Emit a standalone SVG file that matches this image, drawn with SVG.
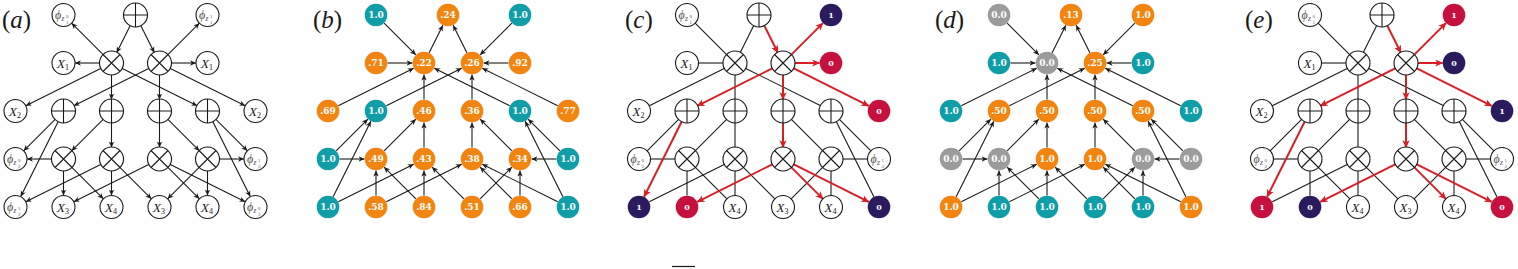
<svg xmlns="http://www.w3.org/2000/svg" xmlns:xlink="http://www.w3.org/1999/xlink" width="1518" height="269" viewBox="0 0 1518 269">
<style>
.ln{fill:none;stroke:#1a1a1a;stroke-width:1.1}
.arr{marker-end:url(#ah)}
.red{fill:none;stroke:#d81e27;stroke-width:2;marker-end:url(#ahr)}
.nd{fill:#fff;stroke:#1a1a1a;stroke-width:1.1}
.t{fill:#0f9ea8}.o{fill:#f28410}.g{fill:#9c9c9c}.p{fill:#2b1b5e}.c{fill:#c6113f}
.v{font-family:"DejaVu Serif",serif;font-weight:bold;font-size:9px;fill:#fff;text-anchor:middle}
.s{font-size:8px}
.lbl{font-family:"Liberation Serif","DejaVu Serif",serif;font-style:italic;font-size:13px;fill:#1a1a1a}
.sub{font-size:8px;font-style:normal}
.phi{fill:#555}
.ph{font-size:12px}.z{font-size:7.5px}.ss{font-size:5px;font-style:normal}
.pl{font-family:"Liberation Serif","DejaVu Serif",serif;font-size:25px;fill:#1a1a1a}
</style>
<defs>
<marker id="ah" viewBox="0 0 10 10" refX="10" refY="5" markerWidth="6" markerHeight="6" markerUnits="userSpaceOnUse" orient="auto"><path d="M0,0.5L10,5L0,9.5L3,5z" fill="#1a1a1a"/></marker>
<marker id="ahr" viewBox="0 0 10 10" refX="9" refY="5" markerWidth="9" markerHeight="8" markerUnits="userSpaceOnUse" orient="auto"><path d="M0,0.5L10,5L0,9.5L2.5,5z" fill="#d81e27"/></marker>
<g id="sum"><circle class="nd" r="12"/><path class="ln" d="M-12,0H12M0,-12V12"/></g>
<g id="prod"><circle class="nd" r="12"/><path class="ln" d="M-8.5,-8.5L8.5,8.5M-8.5,8.5L8.5,-8.5"/></g>
<circle id="leaf" class="nd" r="11.5"/>
</defs>

<text class="pl" x="2" y="28">(<tspan font-style="italic">a</tspan>)</text>
<text class="pl" x="313" y="28">(<tspan font-style="italic">b</tspan>)</text>
<text class="pl" x="625" y="28">(<tspan font-style="italic">c</tspan>)</text>
<text class="pl" x="935" y="28">(<tspan font-style="italic">d</tspan>)</text>
<text class="pl" x="1245" y="28">(<tspan font-style="italic">e</tspan>)</text>

<!-- Panel a -->
<g id="panel-a" transform="translate(15.5,0)">
<g id="a-connectors" class="ln arr">
<path d="M114.86,25.29L101.14,52.71"/><path d="M125.14,25.29L138.86,52.71"/>
<path d="M87.87,54.87L56.13,23.13"/><path d="M152.13,54.87L183.87,23.13"/>
<path d="M84.5,63L59.5,63"/><path d="M155.5,63L180.5,63"/>
<path d="M85.71,68.14L10.29,105.86"/><path d="M154.29,68.14L229.71,105.86"/>
<path d="M96,74.5L96,99.5"/><path d="M144,74.5L144,99.5"/>
<path d="M106.29,68.14L181.71,105.86"/><path d="M133.71,68.14L58.29,105.86"/>
<path d="M39.87,119.13L8.13,150.87"/><path d="M42.86,121.29L5.14,196.71"/>
<path d="M87.87,119.13L56.13,150.87"/><path d="M96,122.5L96,147.5"/>
<path d="M144,122.5L144,147.5"/><path d="M152.13,119.13L183.87,150.87"/>
<path d="M200.13,119.13L231.87,150.87"/><path d="M197.14,121.29L234.86,196.71"/>
<path d="M36.5,159L11.5,159"/><path d="M48,170.5L48,195.5"/>
<path d="M56.13,167.13L87.87,198.87"/><path d="M96,170.5L96,195.5"/>
<path d="M85.71,164.14L10.29,201.86"/><path d="M104.13,167.13L135.87,198.87"/>
<path d="M133.71,164.14L58.29,201.86"/><path d="M152.13,167.13L183.87,198.87"/>
<path d="M154.29,164.14L229.71,201.86"/><path d="M183.87,167.13L152.13,198.87"/>
<path d="M192,170.5L192,195.5"/><path d="M203.5,159L228.5,159"/>
</g>
<g id="a-phi-z1-0" transform="translate(48,15)"><use href="#leaf"/><text class="lbl phi"><tspan class="ph" x="-8.5" y="4">ϕ</tspan><tspan class="z" x="-2" y="6">z</tspan><tspan class="ss" x="2.5" y="2.5">0</tspan><tspan class="ss" x="2.5" y="8.5">1</tspan></text></g>
<g id="a-root" transform="translate(120,15)"><use href="#sum"/></g>
<g id="a-phi-z1-1" transform="translate(192,15)"><use href="#leaf"/><text class="lbl phi"><tspan class="ph" x="-8.5" y="4">ϕ</tspan><tspan class="z" x="-2" y="6">z</tspan><tspan class="ss" x="2.5" y="2.5">1</tspan><tspan class="ss" x="2.5" y="8.5">1</tspan></text></g>
<g id="a-x1-l" transform="translate(48,63)"><use href="#leaf"/><text class="lbl" x="-6.5" y="4.5">X<tspan class="sub" dy="2.5">1</tspan></text></g>
<g id="a-prod-1" transform="translate(96,63)"><use href="#prod"/></g>
<g id="a-prod-2" transform="translate(144,63)"><use href="#prod"/></g>
<g id="a-x1-r" transform="translate(192,63)"><use href="#leaf"/><text class="lbl" x="-6.5" y="4.5">X<tspan class="sub" dy="2.5">1</tspan></text></g>
<g id="a-x2-l" transform="translate(0,111)"><use href="#leaf"/><text class="lbl" x="-6.5" y="4.5">X<tspan class="sub" dy="2.5">2</tspan></text></g>
<g id="a-sum-1" transform="translate(48,111)"><use href="#sum"/></g>
<g id="a-sum-2" transform="translate(96,111)"><use href="#sum"/></g>
<g id="a-sum-3" transform="translate(144,111)"><use href="#sum"/></g>
<g id="a-sum-4" transform="translate(192,111)"><use href="#sum"/></g>
<g id="a-x2-r" transform="translate(240,111)"><use href="#leaf"/><text class="lbl" x="-6.5" y="4.5">X<tspan class="sub" dy="2.5">2</tspan></text></g>
<g id="a-phi-z2-0" transform="translate(0,159)"><use href="#leaf"/><text class="lbl phi"><tspan class="ph" x="-8.5" y="4">ϕ</tspan><tspan class="z" x="-2" y="6">z</tspan><tspan class="ss" x="2.5" y="2.5">0</tspan><tspan class="ss" x="2.5" y="8.5">2</tspan></text></g>
<g id="a-prod-3" transform="translate(48,159)"><use href="#prod"/></g>
<g id="a-prod-4" transform="translate(96,159)"><use href="#prod"/></g>
<g id="a-prod-5" transform="translate(144,159)"><use href="#prod"/></g>
<g id="a-prod-6" transform="translate(192,159)"><use href="#prod"/></g>
<g id="a-phi-z3-1" transform="translate(240,159)"><use href="#leaf"/><text class="lbl phi"><tspan class="ph" x="-8.5" y="4">ϕ</tspan><tspan class="z" x="-2" y="6">z</tspan><tspan class="ss" x="2.5" y="2.5">1</tspan><tspan class="ss" x="2.5" y="8.5">3</tspan></text></g>
<g id="a-phi-z2-1" transform="translate(0,207)"><use href="#leaf"/><text class="lbl phi"><tspan class="ph" x="-8.5" y="4">ϕ</tspan><tspan class="z" x="-2" y="6">z</tspan><tspan class="ss" x="2.5" y="2.5">1</tspan><tspan class="ss" x="2.5" y="8.5">2</tspan></text></g>
<g id="a-x3-l" transform="translate(48,207)"><use href="#leaf"/><text class="lbl" x="-6.5" y="4.5">X<tspan class="sub" dy="2.5">3</tspan></text></g>
<g id="a-x4-l" transform="translate(96,207)"><use href="#leaf"/><text class="lbl" x="-6.5" y="4.5">X<tspan class="sub" dy="2.5">4</tspan></text></g>
<g id="a-x3-r" transform="translate(144,207)"><use href="#leaf"/><text class="lbl" x="-6.5" y="4.5">X<tspan class="sub" dy="2.5">3</tspan></text></g>
<g id="a-x4-r" transform="translate(192,207)"><use href="#leaf"/><text class="lbl" x="-6.5" y="4.5">X<tspan class="sub" dy="2.5">4</tspan></text></g>
<g id="a-phi-z3-0" transform="translate(240,207)"><use href="#leaf"/><text class="lbl phi"><tspan class="ph" x="-8.5" y="4">ϕ</tspan><tspan class="z" x="-2" y="6">z</tspan><tspan class="ss" x="2.5" y="2.5">0</tspan><tspan class="ss" x="2.5" y="8.5">3</tspan></text></g>
</g>

<!-- Panel b -->
<g id="panel-b" transform="translate(328,0)">
<g id="b-connectors" class="ln arr">
<path d="M101.14,52.71L114.86,25.29"/><path d="M138.86,52.71L125.14,25.29"/>
<path d="M56.13,23.13L87.87,54.87"/><path d="M183.87,23.13L152.13,54.87"/>
<path d="M59.5,63L84.5,63"/><path d="M180.5,63L155.5,63"/>
<path d="M10.29,105.86L85.71,68.14"/><path d="M229.71,105.86L154.29,68.14"/>
<path d="M96,99.5L96,74.5"/><path d="M144,99.5L144,74.5"/>
<path d="M181.71,105.86L106.29,68.14"/><path d="M58.29,105.86L133.71,68.14"/>
<path d="M8.13,150.87L39.87,119.13"/><path d="M5.14,196.71L42.86,121.29"/>
<path d="M56.13,150.87L87.87,119.13"/><path d="M96,147.5L96,122.5"/>
<path d="M144,147.5L144,122.5"/><path d="M183.87,150.87L152.13,119.13"/>
<path d="M231.87,150.87L200.13,119.13"/><path d="M234.86,196.71L197.14,121.29"/>
<path d="M11.5,159L36.5,159"/><path d="M48,195.5L48,170.5"/>
<path d="M87.87,198.87L56.13,167.13"/><path d="M96,195.5L96,170.5"/>
<path d="M10.29,201.86L85.71,164.14"/><path d="M135.87,198.87L104.13,167.13"/>
<path d="M58.29,201.86L133.71,164.14"/><path d="M183.87,198.87L152.13,167.13"/>
<path d="M229.71,201.86L154.29,164.14"/><path d="M152.13,198.87L183.87,167.13"/>
<path d="M192,195.5L192,170.5"/><path d="M228.5,159L203.5,159"/>
</g>
<g id="b-phi-z1-0" transform="translate(48,15)"><circle class="t" r="11.3"/><text class="v" y="3.2">1.0</text></g>
<g id="b-root" transform="translate(120,15)"><circle class="o" r="11.3"/><text class="v" y="3.2">.24</text></g>
<g id="b-phi-z1-1" transform="translate(192,15)"><circle class="t" r="11.3"/><text class="v" y="3.2">1.0</text></g>
<g id="b-x1-l" transform="translate(48,63)"><circle class="o" r="11.3"/><text class="v" y="3.2">.71</text></g>
<g id="b-prod-1" transform="translate(96,63)"><circle class="o" r="11.3"/><text class="v" y="3.2">.22</text></g>
<g id="b-prod-2" transform="translate(144,63)"><circle class="o" r="11.3"/><text class="v" y="3.2">.26</text></g>
<g id="b-x1-r" transform="translate(192,63)"><circle class="o" r="11.3"/><text class="v" y="3.2">.92</text></g>
<g id="b-x2-l" transform="translate(0,111)"><circle class="o" r="11.3"/><text class="v" y="3.2">.69</text></g>
<g id="b-sum-1" transform="translate(48,111)"><circle class="t" r="11.3"/><text class="v" y="3.2">1.0</text></g>
<g id="b-sum-2" transform="translate(96,111)"><circle class="o" r="11.3"/><text class="v" y="3.2">.46</text></g>
<g id="b-sum-3" transform="translate(144,111)"><circle class="o" r="11.3"/><text class="v" y="3.2">.36</text></g>
<g id="b-sum-4" transform="translate(192,111)"><circle class="t" r="11.3"/><text class="v" y="3.2">1.0</text></g>
<g id="b-x2-r" transform="translate(240,111)"><circle class="o" r="11.3"/><text class="v" y="3.2">.77</text></g>
<g id="b-phi-z2-0" transform="translate(0,159)"><circle class="t" r="11.3"/><text class="v" y="3.2">1.0</text></g>
<g id="b-prod-3" transform="translate(48,159)"><circle class="o" r="11.3"/><text class="v" y="3.2">.49</text></g>
<g id="b-prod-4" transform="translate(96,159)"><circle class="o" r="11.3"/><text class="v" y="3.2">.43</text></g>
<g id="b-prod-5" transform="translate(144,159)"><circle class="o" r="11.3"/><text class="v" y="3.2">.38</text></g>
<g id="b-prod-6" transform="translate(192,159)"><circle class="o" r="11.3"/><text class="v" y="3.2">.34</text></g>
<g id="b-phi-z3-1" transform="translate(240,159)"><circle class="t" r="11.3"/><text class="v" y="3.2">1.0</text></g>
<g id="b-phi-z2-1" transform="translate(0,207)"><circle class="t" r="11.3"/><text class="v" y="3.2">1.0</text></g>
<g id="b-x3-l" transform="translate(48,207)"><circle class="o" r="11.3"/><text class="v" y="3.2">.58</text></g>
<g id="b-x4-l" transform="translate(96,207)"><circle class="o" r="11.3"/><text class="v" y="3.2">.84</text></g>
<g id="b-x3-r" transform="translate(144,207)"><circle class="o" r="11.3"/><text class="v" y="3.2">.51</text></g>
<g id="b-x4-r" transform="translate(192,207)"><circle class="o" r="11.3"/><text class="v" y="3.2">.66</text></g>
<g id="b-phi-z3-0" transform="translate(240,207)"><circle class="t" r="11.3"/><text class="v" y="3.2">1.0</text></g>
</g>

<!-- Panel c -->
<g id="panel-c" transform="translate(639,0)">
<g id="c-connectors">
<g class="ln">
<path d="M114.86,25.29L101.14,52.71"/><path d="M87.87,54.87L56.13,23.13"/>
<path d="M84.5,63L59.5,63"/><path d="M85.71,68.14L10.29,105.86"/>
<path d="M96,74.5L96,99.5"/><path d="M106.29,68.14L181.71,105.86"/>
<path d="M39.87,119.13L8.13,150.87"/><path d="M87.87,119.13L56.13,150.87"/>
<path d="M96,122.5L96,147.5"/><path d="M152.13,119.13L183.87,150.87"/>
<path d="M200.13,119.13L231.87,150.87"/><path d="M197.14,121.29L234.86,196.71"/>
<path d="M36.5,159L11.5,159"/><path d="M48,170.5L48,195.5"/>
<path d="M56.13,167.13L87.87,198.87"/><path d="M96,170.5L96,195.5"/>
<path d="M85.71,164.14L10.29,201.86"/><path d="M104.13,167.13L135.87,198.87"/>
<path d="M183.87,167.13L152.13,198.87"/><path d="M192,170.5L192,195.5"/>
<path d="M203.5,159L228.5,159"/>
</g>
<g class="red">
<path d="M125.14,25.29L138.86,52.71"/><path d="M152.13,54.87L183.87,23.13"/>
<path d="M155.5,63L180.5,63"/><path d="M154.29,68.14L229.71,105.86"/>
<path d="M144,74.5L144,99.5"/><path d="M133.71,68.14L58.29,105.86"/>
<path d="M42.86,121.29L5.14,196.71"/><path d="M144,122.5L144,147.5"/>
<path d="M133.71,164.14L58.29,201.86"/><path d="M152.13,167.13L183.87,198.87"/>
<path d="M154.29,164.14L229.71,201.86"/>
</g>
</g>
<g id="c-phi-z1-0" transform="translate(48,15)"><use href="#leaf"/><text class="lbl phi"><tspan class="ph" x="-8.5" y="4">ϕ</tspan><tspan class="z" x="-2" y="6">z</tspan><tspan class="ss" x="2.5" y="2.5">0</tspan><tspan class="ss" x="2.5" y="8.5">1</tspan></text></g>
<g id="c-root" transform="translate(120,15)"><use href="#sum"/></g>
<g id="c-phi-z1-1" transform="translate(192,15)"><circle class="p" r="11.3"/><text class="v s" y="3">1</text></g>
<g id="c-x1-l" transform="translate(48,63)"><use href="#leaf"/><text class="lbl" x="-6.5" y="4.5">X<tspan class="sub" dy="2.5">1</tspan></text></g>
<g id="c-prod-1" transform="translate(96,63)"><use href="#prod"/></g>
<g id="c-prod-2" transform="translate(144,63)"><use href="#prod"/></g>
<g id="c-x1-r" transform="translate(192,63)"><circle class="c" r="11.3"/><text class="v s" y="3">0</text></g>
<g id="c-x2-l" transform="translate(0,111)"><use href="#leaf"/><text class="lbl" x="-6.5" y="4.5">X<tspan class="sub" dy="2.5">2</tspan></text></g>
<g id="c-sum-1" transform="translate(48,111)"><use href="#sum"/></g>
<g id="c-sum-2" transform="translate(96,111)"><use href="#sum"/></g>
<g id="c-sum-3" transform="translate(144,111)"><use href="#sum"/></g>
<g id="c-sum-4" transform="translate(192,111)"><use href="#sum"/></g>
<g id="c-x2-r" transform="translate(240,111)"><circle class="c" r="11.3"/><text class="v s" y="3">0</text></g>
<g id="c-phi-z2-0" transform="translate(0,159)"><use href="#leaf"/><text class="lbl phi"><tspan class="ph" x="-8.5" y="4">ϕ</tspan><tspan class="z" x="-2" y="6">z</tspan><tspan class="ss" x="2.5" y="2.5">0</tspan><tspan class="ss" x="2.5" y="8.5">2</tspan></text></g>
<g id="c-prod-3" transform="translate(48,159)"><use href="#prod"/></g>
<g id="c-prod-4" transform="translate(96,159)"><use href="#prod"/></g>
<g id="c-prod-5" transform="translate(144,159)"><use href="#prod"/></g>
<g id="c-prod-6" transform="translate(192,159)"><use href="#prod"/></g>
<g id="c-phi-z3-1" transform="translate(240,159)"><use href="#leaf"/><text class="lbl phi"><tspan class="ph" x="-8.5" y="4">ϕ</tspan><tspan class="z" x="-2" y="6">z</tspan><tspan class="ss" x="2.5" y="2.5">1</tspan><tspan class="ss" x="2.5" y="8.5">3</tspan></text></g>
<g id="c-phi-z2-1" transform="translate(0,207)"><circle class="p" r="11.3"/><text class="v s" y="3">1</text></g>
<g id="c-x3-l" transform="translate(48,207)"><circle class="c" r="11.3"/><text class="v s" y="3">0</text></g>
<g id="c-x4-l" transform="translate(96,207)"><use href="#leaf"/><text class="lbl" x="-6.5" y="4.5">X<tspan class="sub" dy="2.5">4</tspan></text></g>
<g id="c-x3-r" transform="translate(144,207)"><use href="#leaf"/><text class="lbl" x="-6.5" y="4.5">X<tspan class="sub" dy="2.5">3</tspan></text></g>
<g id="c-x4-r" transform="translate(192,207)"><use href="#leaf"/><text class="lbl" x="-6.5" y="4.5">X<tspan class="sub" dy="2.5">4</tspan></text></g>
<g id="c-phi-z3-0" transform="translate(240,207)"><circle class="p" r="11.3"/><text class="v s" y="3">0</text></g>
</g>

<!-- Panel d -->
<g id="panel-d" transform="translate(951,0)">
<g id="d-connectors"><use href="#b-connectors"/></g>
<g id="d-phi-z1-0" transform="translate(48,15)"><circle class="g" r="11.3"/><text class="v" y="3.2">0.0</text></g>
<g id="d-root" transform="translate(120,15)"><circle class="o" r="11.3"/><text class="v" y="3.2">.13</text></g>
<g id="d-phi-z1-1" transform="translate(192,15)"><circle class="o" r="11.3"/><text class="v" y="3.2">1.0</text></g>
<g id="d-x1-l" transform="translate(48,63)"><circle class="t" r="11.3"/><text class="v" y="3.2">1.0</text></g>
<g id="d-prod-1" transform="translate(96,63)"><circle class="g" r="11.3"/><text class="v" y="3.2">0.0</text></g>
<g id="d-prod-2" transform="translate(144,63)"><circle class="o" r="11.3"/><text class="v" y="3.2">.25</text></g>
<g id="d-x1-r" transform="translate(192,63)"><circle class="t" r="11.3"/><text class="v" y="3.2">1.0</text></g>
<g id="d-x2-l" transform="translate(0,111)"><circle class="t" r="11.3"/><text class="v" y="3.2">1.0</text></g>
<g id="d-sum-1" transform="translate(48,111)"><circle class="o" r="11.3"/><text class="v" y="3.2">.50</text></g>
<g id="d-sum-2" transform="translate(96,111)"><circle class="o" r="11.3"/><text class="v" y="3.2">.50</text></g>
<g id="d-sum-3" transform="translate(144,111)"><circle class="o" r="11.3"/><text class="v" y="3.2">.50</text></g>
<g id="d-sum-4" transform="translate(192,111)"><circle class="o" r="11.3"/><text class="v" y="3.2">.50</text></g>
<g id="d-x2-r" transform="translate(240,111)"><circle class="t" r="11.3"/><text class="v" y="3.2">1.0</text></g>
<g id="d-phi-z2-0" transform="translate(0,159)"><circle class="g" r="11.3"/><text class="v" y="3.2">0.0</text></g>
<g id="d-prod-3" transform="translate(48,159)"><circle class="g" r="11.3"/><text class="v" y="3.2">0.0</text></g>
<g id="d-prod-4" transform="translate(96,159)"><circle class="o" r="11.3"/><text class="v" y="3.2">1.0</text></g>
<g id="d-prod-5" transform="translate(144,159)"><circle class="o" r="11.3"/><text class="v" y="3.2">1.0</text></g>
<g id="d-prod-6" transform="translate(192,159)"><circle class="g" r="11.3"/><text class="v" y="3.2">0.0</text></g>
<g id="d-phi-z3-1" transform="translate(240,159)"><circle class="g" r="11.3"/><text class="v" y="3.2">0.0</text></g>
<g id="d-phi-z2-1" transform="translate(0,207)"><circle class="o" r="11.3"/><text class="v" y="3.2">1.0</text></g>
<g id="d-x3-l" transform="translate(48,207)"><circle class="t" r="11.3"/><text class="v" y="3.2">1.0</text></g>
<g id="d-x4-l" transform="translate(96,207)"><circle class="t" r="11.3"/><text class="v" y="3.2">1.0</text></g>
<g id="d-x3-r" transform="translate(144,207)"><circle class="t" r="11.3"/><text class="v" y="3.2">1.0</text></g>
<g id="d-x4-r" transform="translate(192,207)"><circle class="t" r="11.3"/><text class="v" y="3.2">1.0</text></g>
<g id="d-phi-z3-0" transform="translate(240,207)"><circle class="o" r="11.3"/><text class="v" y="3.2">1.0</text></g>
</g>

<!-- Panel e -->
<g id="panel-e" transform="translate(1262,0)">
<g id="e-connectors"><use href="#c-connectors"/></g>
<g id="e-phi-z1-0" transform="translate(48,15)"><use href="#leaf"/><text class="lbl phi"><tspan class="ph" x="-8.5" y="4">ϕ</tspan><tspan class="z" x="-2" y="6">z</tspan><tspan class="ss" x="2.5" y="2.5">0</tspan><tspan class="ss" x="2.5" y="8.5">1</tspan></text></g>
<g id="e-root" transform="translate(120,15)"><use href="#sum"/></g>
<g id="e-phi-z1-1" transform="translate(192,15)"><circle class="c" r="11.3"/><text class="v s" y="3">1</text></g>
<g id="e-x1-l" transform="translate(48,63)"><use href="#leaf"/><text class="lbl" x="-6.5" y="4.5">X<tspan class="sub" dy="2.5">1</tspan></text></g>
<g id="e-prod-1" transform="translate(96,63)"><use href="#prod"/></g>
<g id="e-prod-2" transform="translate(144,63)"><use href="#prod"/></g>
<g id="e-x1-r" transform="translate(192,63)"><circle class="p" r="11.3"/><text class="v s" y="3">0</text></g>
<g id="e-x2-l" transform="translate(0,111)"><use href="#leaf"/><text class="lbl" x="-6.5" y="4.5">X<tspan class="sub" dy="2.5">2</tspan></text></g>
<g id="e-sum-1" transform="translate(48,111)"><use href="#sum"/></g>
<g id="e-sum-2" transform="translate(96,111)"><use href="#sum"/></g>
<g id="e-sum-3" transform="translate(144,111)"><use href="#sum"/></g>
<g id="e-sum-4" transform="translate(192,111)"><use href="#sum"/></g>
<g id="e-x2-r" transform="translate(240,111)"><circle class="p" r="11.3"/><text class="v s" y="3">1</text></g>
<g id="e-phi-z2-0" transform="translate(0,159)"><use href="#leaf"/><text class="lbl phi"><tspan class="ph" x="-8.5" y="4">ϕ</tspan><tspan class="z" x="-2" y="6">z</tspan><tspan class="ss" x="2.5" y="2.5">0</tspan><tspan class="ss" x="2.5" y="8.5">2</tspan></text></g>
<g id="e-prod-3" transform="translate(48,159)"><use href="#prod"/></g>
<g id="e-prod-4" transform="translate(96,159)"><use href="#prod"/></g>
<g id="e-prod-5" transform="translate(144,159)"><use href="#prod"/></g>
<g id="e-prod-6" transform="translate(192,159)"><use href="#prod"/></g>
<g id="e-phi-z3-1" transform="translate(240,159)"><use href="#leaf"/><text class="lbl phi"><tspan class="ph" x="-8.5" y="4">ϕ</tspan><tspan class="z" x="-2" y="6">z</tspan><tspan class="ss" x="2.5" y="2.5">1</tspan><tspan class="ss" x="2.5" y="8.5">3</tspan></text></g>
<g id="e-phi-z2-1" transform="translate(0,207)"><circle class="c" r="11.3"/><text class="v s" y="3">1</text></g>
<g id="e-x3-l" transform="translate(48,207)"><circle class="p" r="11.3"/><text class="v s" y="3">0</text></g>
<g id="e-x4-l" transform="translate(96,207)"><use href="#leaf"/><text class="lbl" x="-6.5" y="4.5">X<tspan class="sub" dy="2.5">4</tspan></text></g>
<g id="e-x3-r" transform="translate(144,207)"><use href="#leaf"/><text class="lbl" x="-6.5" y="4.5">X<tspan class="sub" dy="2.5">3</tspan></text></g>
<g id="e-x4-r" transform="translate(192,207)"><use href="#leaf"/><text class="lbl" x="-6.5" y="4.5">X<tspan class="sub" dy="2.5">4</tspan></text></g>
<g id="e-phi-z3-0" transform="translate(240,207)"><circle class="c" r="11.3"/><text class="v s" y="3">0</text></g>
</g>

<path d="M672,266.5H695" stroke="#1a1a1a" stroke-width="1.2"/>
</svg>
